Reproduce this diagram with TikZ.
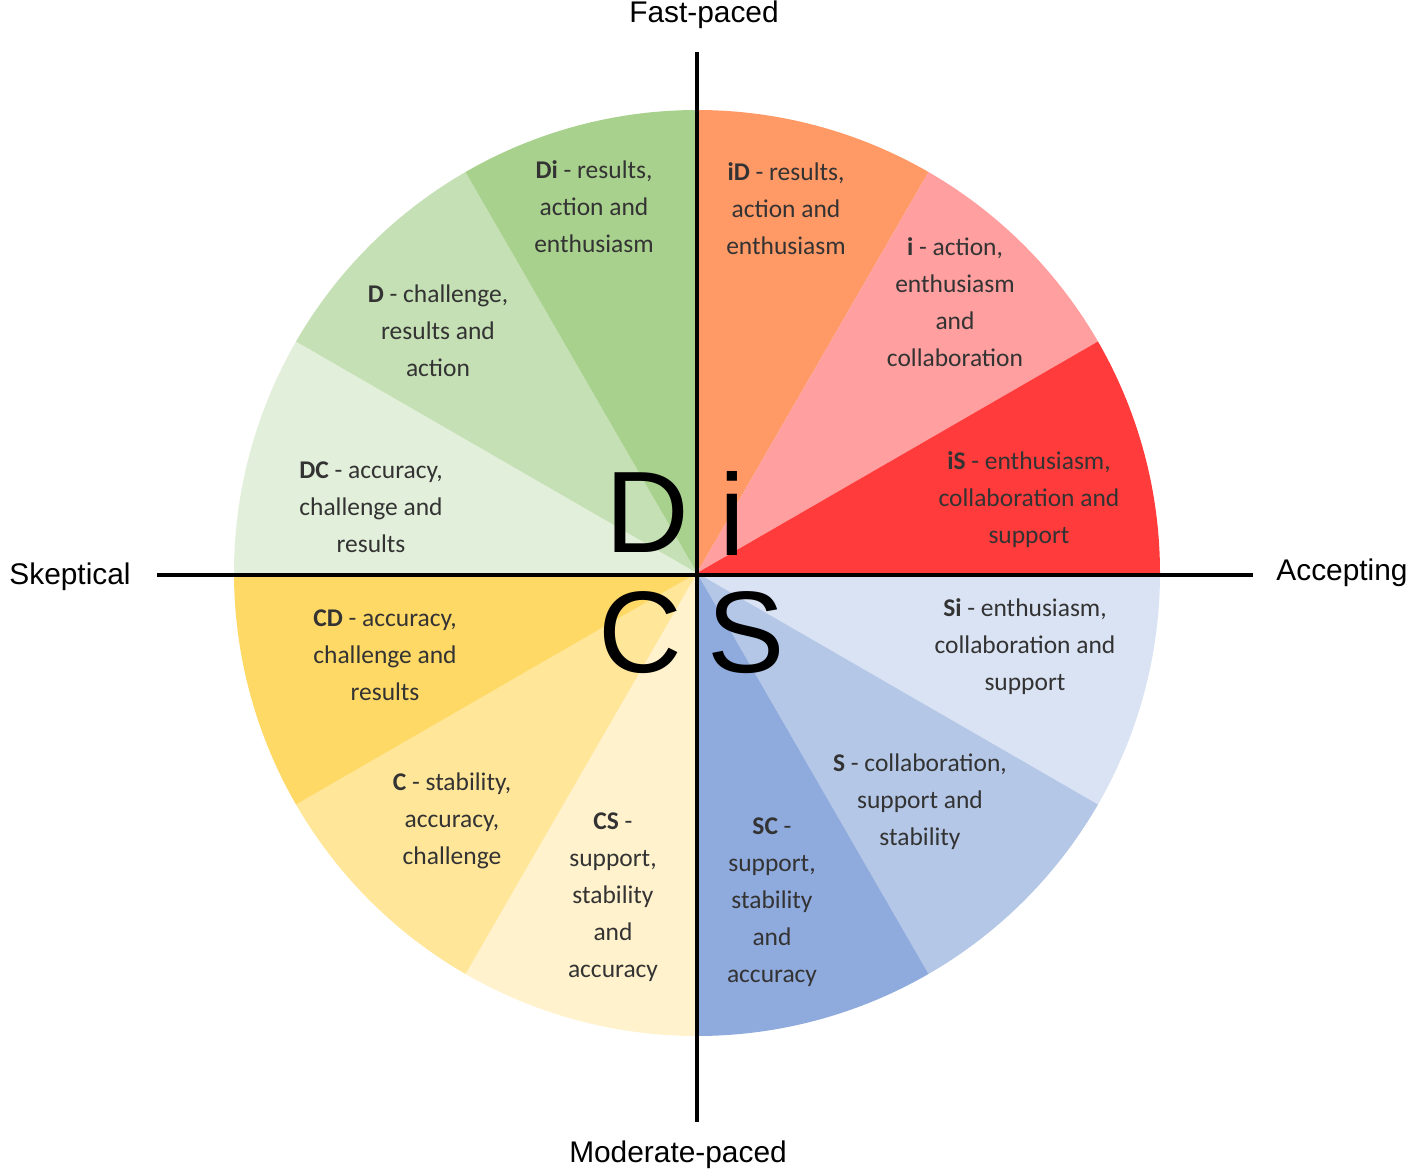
\documentclass[tikz,border=0pt]{standalone}
\usepackage{fontspec}
\setmainfont{Carlito}
\newfontfamily\arialf{Liberation Sans}
\begin{document}
\begin{tikzpicture}[x=0.02cm,y=-0.02cm,
  lab/.style={align=center,font=\fontsize{14.5}{21}\selectfont,text=black!80},
  big/.style={font=\arialf\fontsize{66}{66}\selectfont},
  ax/.style={font=\arialf\fontsize{17}{20}\selectfont}]
\useasboundingbox (0,0) rectangle (1418,1176);
\coordinate (O) at (697,573);
\foreach \a/\c in {60/FF9966,30/FF9F9F,0/FF3B3B,-30/DAE3F3,-60/B4C7E7,-90/8FAADC,240/FFF2CC,210/FFE699,180/FFD966,150/E2EFDA,120/C5E0B4,90/A9D18E}{
  \definecolor{tmp}{HTML}{\c}
  \fill[tmp] (O) -- ++(\a:463 and -463) arc[start angle=\a,end angle=\a+30,x radius=463,y radius=-463] -- cycle;
}
\node[lab] (di) at (594,207) {\textbf{Di} - results,\\action and\\enthusiasm};
\node[lab] (id) at (786,209) {\textbf{iD} - results,\\action and\\enthusiasm};
\node[lab] (i) at (955,302) {\textbf{i} - action,\\enthusiasm\\and\\collaboration};
\node[lab] (is) at (1029,500) {\textbf{iS} - enthusiasm,\\collaboration and\\support};
\node[lab] (si) at (1025,647) {\textbf{Si} - enthusiasm,\\collaboration and\\support};
\node[lab] (s) at (920,802) {\textbf{S} - collaboration,\\support and\\stability};
\node[lab] (sc) at (772,902) {\textbf{SC} -\\support,\\stability\\and\\accuracy};
\node[lab] (cs) at (613,897) {\textbf{CS} -\\support,\\stability\\and\\accuracy};
\node[lab] (c) at (452,821) {\textbf{C} - stability,\\accuracy,\\challenge};
\node[lab] (cd) at (385,655) {\textbf{CD} - accuracy,\\challenge and\\results};
\node[lab] (dc) at (371,507) {\textbf{DC} - accuracy,\\challenge and\\results};
\node[lab] (d) at (438,331) {\textbf{D} - challenge,\\results and\\action};
\node[big] (bD) at (647,513) {D};
\node[big] (bi) at (732,513) {i};
\node[big] (bC) at (640,633) {C};
\node[big] (bS) at (746,633) {S};
\node[ax] (fast) at (704,15) {Fast-paced};
\node[ax] (skep) at (70,577) {Skeptical};
\node[ax] (acc) at (1342,573) {Accepting};
\node[ax] (mod) at (678,1155) {Moderate-paced};
\coordinate (L) at (157,575); \coordinate (R) at (1253,575);
\coordinate (T) at (697,52); \coordinate (B) at (697,1122);
\draw[line width=2.3pt] (L) -- (R);
\draw[line width=2.3pt] (T) -- (B);
\end{tikzpicture}
\end{document}
